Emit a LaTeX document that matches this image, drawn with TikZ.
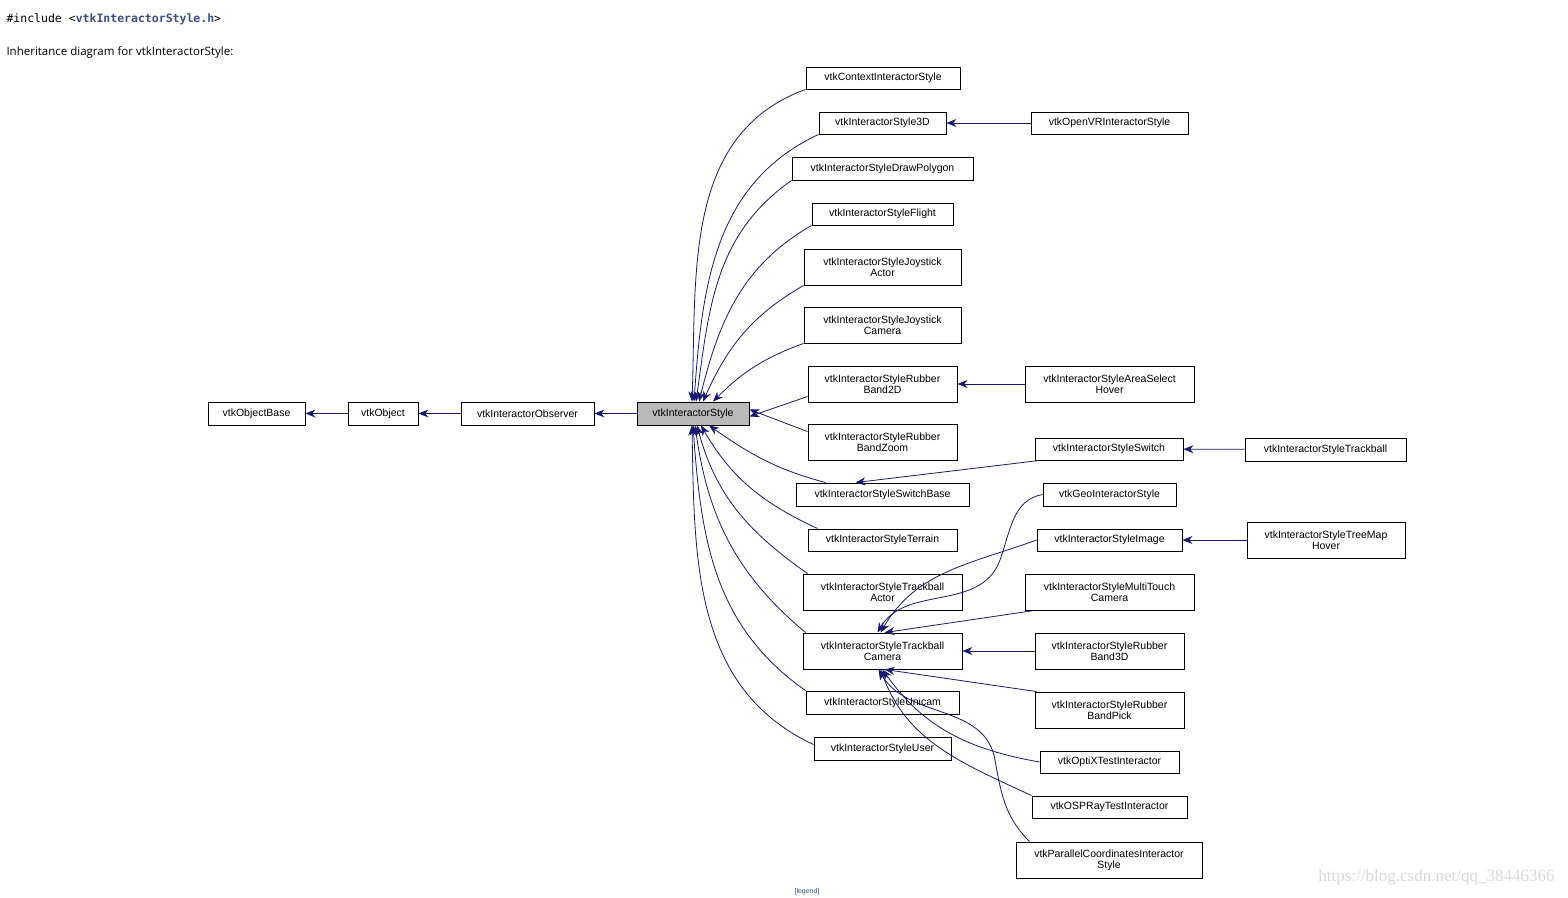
\documentclass[tikz,border=0pt]{standalone}
\usepackage{fontspec}
\setmainfont{Liberation Sans}
\newfontfamily\hdr{Open Sans}
\newfontfamily\mono{DejaVu Sans Mono}
\newfontfamily\wm{Liberation Serif}
\usetikzlibrary{arrows.meta}
\definecolor{edgec}{HTML}{191970}
\definecolor{incc}{HTML}{3A4F86}
\begin{document}
\begin{tikzpicture}[x=1pt,y=-1pt,
  box/.style={draw=black,line width=0.9pt,fill=white,inner sep=0pt,align=center,font=\fontsize{10.5}{11}\selectfont},
  e/.style={draw=edgec,line width=0.8pt,-{Stealth[length=10pt,width=8pt]}}]
\useasboundingbox (0,0) rectangle (1568,897);
\fill[white] (0,0) rectangle (1568,897);
\node[anchor=west,font=\mono\fontsize{11.5}{12}\selectfont] (inc) at (3,19) {\#include <\textcolor{incc}{\textbf{vtkInteractorStyle.h}}>};
\node[anchor=west,font=\hdr\fontsize{11.5}{12}\selectfont] (ttl) at (3,52) {Inheritance diagram for vtkInteractorStyle:};
\newcommand{\bx}[6]{\node[box,minimum width=#4,minimum height=#5] (#1) at (#2,#3) {#6};}
\bx{ob}{256.5}{413.5}{97}{23}{vtkObjectBase}
\bx{o}{383}{413.5}{70}{23}{vtkObject}
\bx{io}{527.5}{413.5}{133}{23}{vtkInteractorObserver}
\node[box,fill=gray!55,minimum width=112,minimum height=23] (is) at (693,413.5) {vtkInteractorStyle};
\bx{ctx}{883}{78}{154}{22}{vtkContextInteractorStyle}
\bx{s3d}{882.5}{123}{127}{22}{vtkInteractorStyle3D}
\bx{ovr}{1109.5}{123}{157}{22}{vtkOpenVRInteractorStyle}
\bx{dp}{882.5}{168.5}{181}{23}{vtkInteractorStyleDrawPolygon}
\bx{fl}{882.5}{214}{141}{22}{vtkInteractorStyleFlight}
\bx{ja}{882.5}{267}{157}{36}{vtkInteractorStyleJoystick\\Actor}
\bx{jc}{882.5}{325}{157}{36}{vtkInteractorStyleJoystick\\Camera}
\bx{rb2}{882.5}{384}{149}{36}{vtkInteractorStyleRubber\\Band2D}
\bx{ash}{1109.5}{384}{169}{36}{vtkInteractorStyleAreaSelect\\Hover}
\bx{rbz}{882.5}{442}{149}{36}{vtkInteractorStyleRubber\\BandZoom}
\bx{sw}{1109}{449}{148}{22}{vtkInteractorStyleSwitch}
\bx{tb}{1325.5}{449.5}{161}{23}{vtkInteractorStyleTrackball}
\bx{swb}{882.5}{494.5}{173}{23}{vtkInteractorStyleSwitchBase}
\bx{geo}{1109.5}{494.5}{133}{23}{vtkGeoInteractorStyle}
\bx{ter}{882.5}{540}{149}{22}{vtkInteractorStyleTerrain}
\bx{img}{1109.5}{540}{145}{22}{vtkInteractorStyleImage}
\bx{tmh}{1326}{540}{158}{36}{vtkInteractorStyleTreeMap\\Hover}
\bx{ta}{882.5}{592}{159}{36}{vtkInteractorStyleTrackball\\Actor}
\bx{mtc}{1109.5}{592}{169}{36}{vtkInteractorStyleMultiTouch\\Camera}
\bx{tc}{882.5}{651}{159}{36}{vtkInteractorStyleTrackball\\Camera}
\bx{rb3}{1109.5}{651}{149}{36}{vtkInteractorStyleRubber\\Band3D}
\bx{uni}{882.5}{702.5}{153}{23}{vtkInteractorStyleUnicam}
\bx{rbp}{1109.5}{710}{149}{36}{vtkInteractorStyleRubber\\BandPick}
\bx{usr}{882.5}{748.5}{137}{23}{vtkInteractorStyleUser}
\bx{opx}{1109.5}{762}{139}{22}{vtkOptiXTestInteractor}
\bx{osp}{1109.5}{807}{155}{22}{vtkOSPRayTestInteractor}
\bx{pci}{1109}{860}{186}{36}{vtkParallelCoordinatesInteractor\\Style}
% base chain
\draw[e] (o) -- (ob);
\draw[e] (io) -- (o);
\draw[e] (is) -- (io);
% upper children
\draw[e] (ctx.south west) to[out=200,in=88] ([xshift=-1]is.north);
\draw[e] (s3d.south west) to[out=205,in=86] ([xshift=1]is.north);
\draw[e] (dp.south west) to[out=215,in=82] ([xshift=3]is.north);
\draw[e] (fl.south west) to[out=210,in=76] ([xshift=6]is.north);
\draw[e] (ja.south west) to[out=210,in=66] ([xshift=10]is.north);
\draw[e] (jc.south west) to[out=200,in=45] ([xshift=20]is.north);
\draw[e] ([yshift=6]rb2.south west) -- ([yshift=-3]is.east);
\draw[e] ([yshift=-8]rbz.north west) -- ([yshift=4]is.east);
% lower children
\draw[e] ([xshift=30]swb.north west) to[out=165,in=-35] ([xshift=16]is.south);
\draw[e] ([xshift=10]ter.north west) to[out=155,in=-60] ([xshift=8]is.south);
\draw[e] ([xshift=5]ta.north west) to[out=145,in=-75] ([xshift=4]is.south);
\draw[e] ([xshift=3]tc.north west) to[out=140,in=-82] ([xshift=2]is.south);
\draw[e] (uni.north west) to[out=145,in=-86] ([xshift=0]is.south);
\draw[e] ([yshift=-8]usr.north west) to[out=155,in=-89] ([xshift=-1]is.south);
% right
\draw[e] (ovr) -- (s3d);
\draw[e] (ash) -- (rb2);
\draw[e] (tb) -- (sw);
\draw[e] (tmh) -- (img);
\draw[e] ([xshift=5]sw.south west) -- ([xshift=60]swb.north west);
\draw[e] (geo.west) to[out=190,in=70] (1000,560) to[out=-110,in=60] ([xshift=75]tc.north west);
\draw[e] (img.west) to[out=200,in=60] ([xshift=78]tc.north west);
\draw[e] ([xshift=10]mtc.south west) -- ([xshift=82]tc.north west);
\draw[e] (rb3) -- (tc);
\draw[e] ([xshift=2]rbp.north west) -- ([xshift=82]tc.south west);
\draw[e] (opx.west) to[out=170,in=-55] ([xshift=80]tc.south west);
\draw[e] (osp.north west) to[out=155,in=-70] ([xshift=78]tc.south west);
\draw[e] ([xshift=14]pci.north west) to[out=135,in=-80] (995,760) to[out=100,in=-60] ([xshift=76]tc.south west);
\node[font=\fontsize{7}{8}\selectfont,text=incc] (lg) at (807,892) {[legend]};
\node[font=\wm\fontsize{17}{18}\selectfont,text=gray!30,anchor=east] (wmk) at (1558,877) {https://blog.csdn.net/qq\_38446366};
\end{tikzpicture}
\end{document}
